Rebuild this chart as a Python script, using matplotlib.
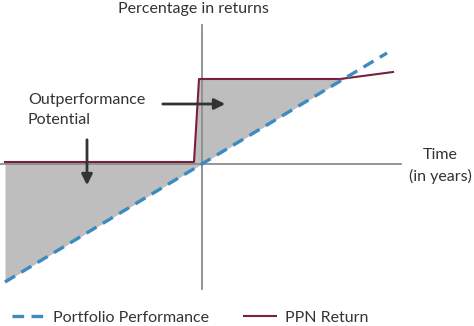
import numpy as np
import matplotlib.pyplot as plt

# time axis (arbitrary units, 0 = issue date)
t_port = [-9.85, 9.25]
portfolio = [-5.9, 5.55]

t_ppn = [-9.85, -0.4, -0.15, 6.9, 9.55]
ppn = [0.1, 0.1, 4.25, 4.25, 4.6]

blue = '#3b8ac0'
red = '#7a1f3d'

plt.rcParams['font.family'] = ['Lato', 'DejaVu Sans']

fig = plt.figure(figsize=(4.74, 3.26), dpi=100)
ax = fig.add_axes([0, 0, 1, 1])
ax.set_xlim(-10.1, 13.6)
ax.set_ylim(-8.1, 8.2)
ax.axis('off')

# axis lines
ax.plot([-10.1, 9.95], [0, 0], color='#8c8c8c', lw=1.3, zorder=1)
ax.plot([0, 0], [-6.25, 6.95], color='#8c8c8c', lw=1.3, zorder=1)

# shaded outperformance area
tt = np.linspace(t_port[0], t_ppn[-1], 800)
p = np.interp(tt, t_port, portfolio)
r = np.interp(tt, t_ppn, ppn)
ax.fill_between(tt, p, r, where=r > p, color='#bebebe', lw=0, zorder=0)

ax.plot(t_port, portfolio, color=blue, lw=2.4, dashes=(3.5, 2.2),
        label='Portfolio Performance', zorder=3)
ax.plot(t_ppn, ppn, color=red, lw=1.5, label='PPN Return', zorder=2)

ax.text(-0.45, 7.75, 'Percentage in returns', ha='center', va='center',
        fontsize=11.5, color='#333333')
ax.text(11.9, 0.45, 'Time', ha='center', va='center', fontsize=11.5, color='#333333')
ax.text(11.9, -0.6, '(in years)', ha='center', va='center', fontsize=11.5, color='#333333')
ax.text(-8.7, 2.7, 'Outperformance\nPotential', ha='left', va='center',
        fontsize=11.5, color='#333333', linespacing=1.5)

arrow = dict(arrowstyle='-|>', color='#333333', lw=2, mutation_scale=16)
ax.annotate('', xy=(1.3, 3.0), xytext=(-2.1, 3.0), arrowprops=arrow)
ax.annotate('', xy=(-5.75, -1.2), xytext=(-5.75, 1.35), arrowprops=arrow)

ax.legend(loc='lower left', bbox_to_anchor=(-0.005, -0.04), ncol=2, frameon=False,
          fontsize=11.5, handlelength=2.0, columnspacing=2.2, handletextpad=0.55,
          labelcolor='#333333')

fig.savefig('out.png', dpi=100)
